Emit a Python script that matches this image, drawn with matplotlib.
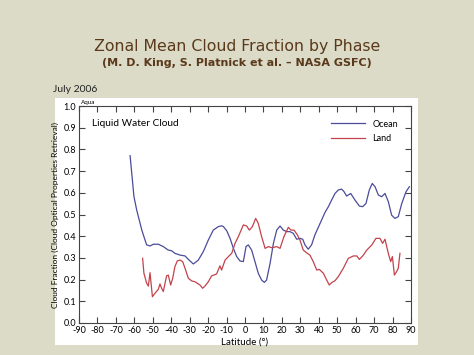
import numpy as np
import matplotlib.pyplot as plt
from matplotlib.patches import Rectangle

# zonal means
ocean_lat = [-62.3, -61.4, -60.2, -58.7, -57.8, -56.9, -56.0, -54.2, -53.3, -51.5,
             -49.7, -47.0, -44.3, -41.6, -39.8, -38.0, -35.2, -32.5, -30.7, -28.0,
             -25.3, -22.6, -19.9, -17.2, -14.5, -12.6, -11.7, -9.9, -8.1, -6.3,
             -4.5, -2.7, -0.9, 0.55, 1.8, 3.6, 5.4, 7.2, 9.0, 10.5,
             11.7, 13.6, 15.4, 17.2, 19.0, 20.8, 22.6, 24.4, 26.2, 28.0,
             29.8, 31.3, 32.5, 34.3, 36.1, 37.9, 40.7, 43.4, 45.2, 47.0,
             48.8, 50.6, 52.4, 53.7, 55.1, 57.3, 59.6, 62.0, 63.8, 65.6,
             67.4, 69.0, 70.5, 72.3, 74.1, 75.9, 77.7, 79.5, 81.3, 83.1,
             85.0, 87.3, 89.1]
ocean_frac = [0.771, 0.69, 0.582, 0.52, 0.49, 0.46, 0.43, 0.382, 0.36, 0.355,
              0.363, 0.363, 0.352, 0.336, 0.333, 0.321, 0.313, 0.309, 0.293, 0.272,
              0.29, 0.329, 0.382, 0.428, 0.444, 0.448, 0.444, 0.425, 0.39, 0.344,
              0.306, 0.286, 0.283, 0.352, 0.36, 0.336, 0.283, 0.229, 0.198, 0.187,
              0.198, 0.275, 0.367, 0.428, 0.447, 0.428, 0.421, 0.421, 0.413, 0.386,
              0.39, 0.386, 0.36, 0.34, 0.36, 0.406, 0.459, 0.51, 0.536, 0.567,
              0.597, 0.613, 0.617, 0.605, 0.585, 0.597, 0.567, 0.539, 0.536, 0.551,
              0.613, 0.643, 0.628, 0.59, 0.582, 0.597, 0.559, 0.497, 0.482, 0.49,
              0.551, 0.605, 0.628]

land_lat = [-55.5, -54.8, -53.3, -52.4, -51.5, -50.2, -48.8, -47.0, -46.1, -45.2,
            -44.3, -42.5, -41.6, -40.3, -39.2, -38.0, -36.7, -35.2, -33.8, -32.5,
            -30.7, -28.9, -27.1, -24.4, -23.0, -21.7, -19.9, -18.1, -15.4, -13.6,
            -12.7, -10.8, -9.0, -7.2, -5.4, -3.6, -0.9, 0.9, 2.35, 4.0,
            5.8, 7.2, 9.0, 10.9, 12.7, 14.5, 17.2, 19.0, 21.1, 23.5,
            24.9, 26.6, 28.4, 29.8, 31.6, 33.8, 35.2, 37.0, 38.9, 40.3,
            42.5, 44.3, 45.7, 47.0, 48.8, 50.6, 53.3, 56.0, 58.8, 60.6,
            62.0, 64.2, 66.0, 68.7, 71.0, 73.2, 74.6, 75.9, 77.7, 79.0,
            79.9, 81.0, 82.2, 83.1, 84.0]
land_frac = [0.298, 0.229, 0.183, 0.17, 0.232, 0.121, 0.137, 0.155, 0.18, 0.16,
             0.145, 0.217, 0.221, 0.175, 0.206, 0.26, 0.286, 0.29, 0.283, 0.252,
             0.206, 0.194, 0.19, 0.175, 0.16, 0.17, 0.19, 0.217, 0.226, 0.263,
             0.244, 0.29, 0.306, 0.321, 0.367, 0.398, 0.452, 0.447, 0.428, 0.444,
             0.482, 0.459, 0.398, 0.344, 0.352, 0.347, 0.352, 0.344, 0.398, 0.441,
             0.428, 0.428, 0.406, 0.382, 0.336, 0.321, 0.313, 0.283, 0.244, 0.247,
             0.229, 0.198, 0.175, 0.186, 0.195, 0.214, 0.252, 0.298, 0.309, 0.309,
             0.293, 0.313, 0.336, 0.359, 0.39, 0.39, 0.367, 0.386, 0.321, 0.283,
             0.306, 0.221, 0.237, 0.252, 0.321]

x_ticks = list(range(-90, 91, 10))
y_ticks = [round(0.1 * i, 1) for i in range(11)]

plt.rcParams['font.family'] = ['Lato', 'DejaVu Sans']

fig = plt.figure(figsize=(4.74, 3.55), dpi=100)
fig.patch.set_facecolor('#dcdbc7')

# white panel behind the chart
fig.patches.append(Rectangle((55 / 474, 10 / 355), 363 / 474, 247 / 355,
                             transform=fig.transFigure, facecolor='white',
                             edgecolor='none', zorder=-5))

title_col = '#5a391c'
fig.text(0.5, 1 - 47 / 355, 'Zonal Mean Cloud Fraction by Phase', ha='center',
         va='center', fontsize=11.3, color=title_col, family=['DejaVu Sans'])
fig.text(0.5, 1 - 63 / 355, '(M. D. King, S. Platnick et al. \u2013 NASA GSFC)',
         ha='center', va='center', fontsize=8, color=title_col,
         family=['DejaVu Sans'], fontweight='bold')
fig.text(53 / 474, 1 - 90 / 355, 'July 2006', ha='left', va='center',
         fontsize=7.5, color='#222222')

ax = fig.add_axes([79 / 474, 32 / 355, 332 / 474, 217 / 355])
ax.set_facecolor('white')

ax.plot(ocean_lat, ocean_frac, color='#4b4b9c', lw=0.9, label='Ocean')
ax.plot(land_lat, land_frac, color='#c2434c', lw=0.9, label='Land')

ax.set_xlim(-90, 90)
ax.set_ylim(0, 1.0)
ax.set_xticks(x_ticks)
ax.set_xticklabels([str(t) for t in x_ticks])
ax.set_yticks(y_ticks)
ax.set_yticklabels(['%.1f' % t for t in y_ticks])
ax.tick_params(direction='in', length=4, width=0.8, color='#444444',
               labelsize=6.5, pad=2, top=True, right=True)
ax.tick_params(axis='x', pad=2)
for s in ax.spines.values():
    s.set_color('#444444')
    s.set_linewidth(0.8)

ax.set_xlabel('Latitude (\u00b0)', fontsize=7, labelpad=2)
ax.set_ylabel('Cloud Fraction (Cloud Optical Properties Retrieval)', fontsize=6,
              labelpad=3)

ax.text(0.04, 0.92, 'Liquid Water Cloud', transform=ax.transAxes, fontsize=7.3,
        va='center', ha='left')
ax.text(0.005, 1.005, 'Aqua', transform=ax.transAxes, fontsize=4.5,
        va='bottom', ha='left')

ax.legend(loc='upper right', bbox_to_anchor=(0.985, 0.975), frameon=False,
          fontsize=6.5, handlelength=3.8, handletextpad=0.8, labelspacing=0.6)

fig.savefig('out.png', dpi=100, facecolor=fig.get_facecolor())
